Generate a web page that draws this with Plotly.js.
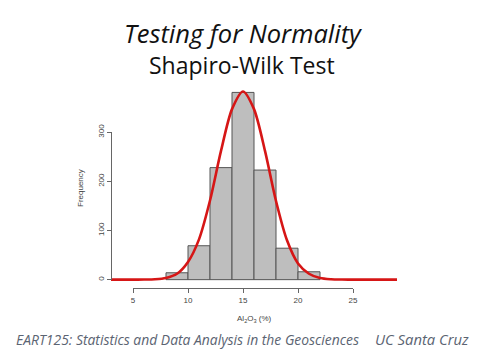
<!DOCTYPE html>
<html>
<head>
<meta charset="utf-8">
<script src="https://cdn.plot.ly/plotly-3.0.1.min.js"></script>
<style>html,body{margin:0;padding:0;background:#fff;}#chart{width:480px;height:360px;}</style>
</head>
<body>
<div id="chart"></div>
<script>
// Histogram bins (Al2O3 %), bin width 2
const binMid = [9, 11, 13, 15, 17, 19, 21];
const counts = [14, 69, 228, 381, 223, 64, 16];
// Fitted normal curve
const curveX = [3, 5, 6, 7, 8, 9, 10, 11, 12, 13, 14, 15, 16, 17, 18, 19, 20, 21, 22, 23, 24, 25, 27, 29];
const curveY = [0, 0, 0.2, 0.8, 3.5, 12, 36, 82, 161, 262, 347, 383, 347, 262, 160, 80, 33, 12, 3.3, 0.8, 0.2, 0, 0, 0];
const xTicks = [5, 10, 15, 20, 25];
const yTicks = [0, 100, 200, 300];

const xr = [3, 29];
const yr = [-17, 390];

const traces = [
  {type: 'bar', x: binMid, y: counts, width: 2,
   marker: {color: '#bebebe', line: {color: '#555555', width: 1}},
   xaxis: 'x', yaxis: 'y', hoverinfo: 'none'},
  {type: 'scatter', mode: 'lines', x: curveX, y: curveY,
   line: {color: 'rgb(214,22,22)', width: 2.6, shape: 'spline', smoothing: 0.8},
   xaxis: 'x', yaxis: 'y', cliponaxis: false, hoverinfo: 'none'},
  {type: 'scatter', mode: 'markers', x: [], y: [], xaxis: 'x2', yaxis: 'y2', hoverinfo: 'none'}
];

const axFont = {family: 'Liberation Sans, Arial, sans-serif', size: 8, color: '#444'};
const footFont = {family: 'Open Sans, sans-serif', size: 13.9, color: '#5b6472'};

const layout = {
  width: 480, height: 360,
  margin: {l: 111, r: 83, t: 88, b: 72},
  paper_bgcolor: '#fff', plot_bgcolor: 'rgba(0,0,0,0)',
  showlegend: false,
  bargap: 0,
  xaxis: {range: xr, visible: false, fixedrange: true},
  yaxis: {range: yr, visible: false, fixedrange: true},
  xaxis2: {
    domain: [(xTicks[0] - xr[0]) / (xr[1] - xr[0]), (xTicks[xTicks.length - 1] - xr[0]) / (xr[1] - xr[0])],
    range: [xTicks[0], xTicks[xTicks.length - 1]],
    anchor: 'free', position: 0, side: 'bottom',
    showline: true, linecolor: '#666', linewidth: 1,
    ticks: 'outside', ticklen: 4, tickcolor: '#666', tickwidth: 1,
    tickvals: xTicks, ticktext: xTicks.map(String),
    tickfont: axFont, showgrid: false, zeroline: false, fixedrange: true
  },
  yaxis2: {
    domain: [(yTicks[0] - yr[0]) / (yr[1] - yr[0]), (yTicks[yTicks.length - 1] - yr[0]) / (yr[1] - yr[0])],
    range: [yTicks[0], yTicks[yTicks.length - 1]],
    anchor: 'free', position: 0, side: 'left',
    showline: true, linecolor: '#666', linewidth: 1,
    ticks: 'outside', ticklen: 4, tickcolor: '#666', tickwidth: 1,
    tickvals: yTicks, ticktext: yTicks.map(String), tickangle: -90,
    tickfont: axFont, showgrid: false, zeroline: false, fixedrange: true
  },
  annotations: [
    {text: '<i>Testing for Normality</i>', xref: 'paper', yref: 'paper', x: 0.5, y: 1, xanchor: 'center', yanchor: 'middle',
     xshift: -11, yshift: 55, showarrow: false, font: {family: 'Open Sans, sans-serif', size: 25.5, color: '#111'}},
    {text: 'Shapiro-Wilk Test', xref: 'paper', yref: 'paper', x: 0.5, y: 1, xanchor: 'center', yanchor: 'middle',
     xshift: -12, yshift: 23, showarrow: false, font: {family: 'Open Sans, sans-serif', size: 23, color: '#111'}},
    {text: 'Al<sub>2</sub>O<sub>3</sub> (%)', xref: 'paper', yref: 'paper', x: 0.5, y: 0, xanchor: 'center', yanchor: 'middle',
     yshift: -31, showarrow: false, font: axFont},
    {text: 'Frequency', xref: 'paper', yref: 'paper', x: 0, y: 0.5, xanchor: 'center', yanchor: 'middle',
     xshift: -31, textangle: -90, showarrow: false, font: axFont},
    {text: '<i>EART125: Statistics and Data Analysis in the Geosciences</i>', xref: 'paper', yref: 'paper', x: 0, y: 0,
     xanchor: 'left', yanchor: 'middle', xshift: -97, yshift: -51, showarrow: false, font: footFont},
    {text: '<i>UC Santa Cruz</i>', xref: 'paper', yref: 'paper', x: 1, y: 0,
     xanchor: 'center', yanchor: 'middle', xshift: 25, yshift: -51, showarrow: false,
     font: {family: 'Open Sans, sans-serif', size: 14.8, color: '#5b6472'}}
  ]
};

Plotly.newPlot('chart', traces, layout, {staticPlot: true, displayModeBar: false});
</script>
</body>
</html>
